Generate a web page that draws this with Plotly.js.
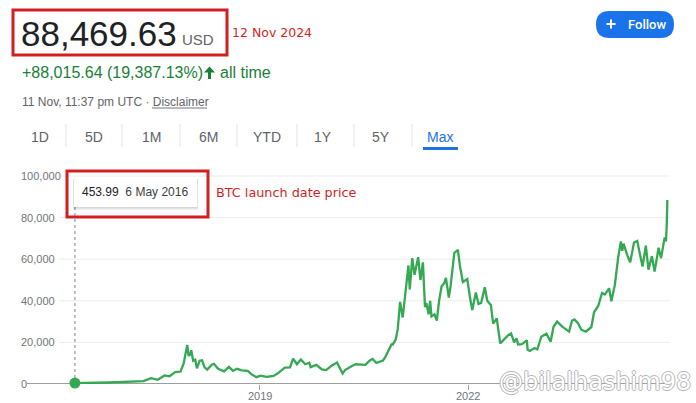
<!DOCTYPE html>
<html>
<head>
<meta charset="utf-8">
<script src="https://cdn.plot.ly/plotly-3.0.1.min.js"></script>
<style>
html,body{margin:0;padding:0;background:#fff;}
#chart{width:696px;height:403px;}
</style>
</head>
<body>
<div id="chart"></div>
<script>
// ---- data ----
const dates = [
"2016-05-06","2016-07-01","2016-09-01","2016-11-01","2017-01-01","2017-03-01","2017-05-01","2017-06-10",
"2017-07-15","2017-08-20","2017-09-15","2017-10-15","2017-11-12","2017-11-28","2017-12-08","2017-12-17",
"2017-12-24","2017-12-31","2018-01-07","2018-01-17","2018-01-28","2018-02-06","2018-02-20","2018-03-05",
"2018-03-18","2018-04-01","2018-04-25","2018-05-06","2018-05-28","2018-06-29","2018-07-24","2018-08-14",
"2018-09-04","2018-09-30","2018-10-31","2018-11-20","2018-12-15","2019-01-06","2019-02-07","2019-03-15",
"2019-04-05","2019-05-14","2019-06-10","2019-06-26","2019-07-16","2019-08-06","2019-08-29","2019-09-19",
"2019-09-26","2019-10-26","2019-11-24","2019-12-17","2020-01-14","2020-02-12","2020-03-12","2020-03-25",
"2020-04-30","2020-05-20","2020-06-20","2020-07-10","2020-08-02","2020-08-17","2020-09-05","2020-09-25",
"2020-10-10","2020-10-22","2020-11-06","2020-11-24","2020-12-01","2020-12-16","2020-12-27","2021-01-08",
"2021-01-22","2021-02-09","2021-02-21","2021-02-28","2021-03-13","2021-03-25","2021-04-13","2021-04-25",
"2021-05-08","2021-05-19","2021-05-26","2021-06-07","2021-06-15","2021-06-22","2021-07-08","2021-07-20",
"2021-08-01","2021-08-14","2021-08-28","2021-09-06","2021-09-21","2021-10-01","2021-10-20","2021-11-08",
"2021-11-18","2021-12-04","2021-12-27","2022-01-10","2022-01-22","2022-02-10","2022-02-24","2022-03-10",
"2022-03-29","2022-04-11","2022-04-30","2022-05-12","2022-05-31","2022-06-18","2022-07-08","2022-07-30",
"2022-08-14","2022-08-30","2022-09-12","2022-09-20","2022-10-10","2022-11-05","2022-11-09","2022-11-21",
"2022-12-15","2022-12-30","2023-01-20","2023-02-16","2023-03-10","2023-03-25","2023-04-13","2023-05-10",
"2023-06-15","2023-06-30","2023-07-13","2023-08-01","2023-08-18","2023-09-11","2023-10-10","2023-10-24",
"2023-11-15","2023-12-05","2023-12-20","2024-01-11","2024-01-23","2024-02-10","2024-02-28","2024-03-13",
"2024-03-20","2024-03-27","2024-04-17","2024-05-01","2024-05-21","2024-06-07","2024-06-24","2024-07-05",
"2024-07-22","2024-08-05","2024-08-23","2024-09-06","2024-09-27","2024-10-10","2024-10-29","2024-11-05",
"2024-11-09","2024-11-12"];
const prices = [
454,670,600,730,1000,1200,1400,2800,
2000,4100,3700,5700,6000,9800,15000,18800,
13500,14000,16200,11200,11700,7500,11200,11400,
8000,6900,9300,9700,7300,6100,8200,6300,
7300,6600,6300,4600,3300,4000,3450,3900,
5000,7900,8000,12200,9500,11800,9500,10200,
8100,9200,7000,6700,8800,10300,5000,6700,
8700,9500,9300,9200,11300,12000,10100,10700,
11300,12900,15500,19000,19000,21300,26500,39500,
32000,46000,57000,45500,60500,52500,61000,50000,
58500,37000,39000,33500,40000,32500,33500,30500,
40000,47000,48500,51000,41500,47500,63000,64500,
57000,49000,50500,41800,35500,44000,38500,39000,
46500,40000,38000,29000,31500,19500,21500,23500,
24300,20000,22000,19000,19200,21000,16500,15900,
17300,16600,22700,24200,20300,27500,30000,27600,
25200,30400,31000,29200,26100,25200,27400,34500,
37500,43800,43000,46000,39800,47500,61000,68500,
64000,67500,61500,58500,68000,68800,61000,56500,
66500,55000,61500,54000,65500,60500,70500,68500,
76500,88469.63];
const yTickVals = [0,20000,40000,60000,80000,100000];
const yTickText = ["0","20,000","40,000","60,000","80,000","100,000"];
const xTickVals = ["2019-01-01","2022-01-01"];
const xTickText = ["2019","2022"];
const tabs = ["1D","5D","1M","6M","YTD","1Y","5Y","Max"];
const launchPrice = "453.99";
const launchDate = "6 May 2016";

// ---- pixel helpers (layout only) ----
const L=18, R=670, T=170, B=384;
const PX = p => (p - L) / (R - L);
const PY = p => (B - p) / (B - T);
const SANS = "Liberation Sans, Arial, sans-serif";
const GREEN = "#34a853";
const RED = "#d21f1f";
const DGREEN = "#188038";

const shapes = [];
const ann = [];

// gridlines (start after labels)
const gridStart = [28, 59, 59, 59, 59, 61];
yTickVals.forEach((v,i) => {
  if (i === 0) return;
  shapes.push({type:"line", layer:"below", xref:"paper", yref:"y", x0:PX(gridStart[i]), x1:1, y0:v, y1:v,
    line:{color:"#ececec", width:1}});
});
// baseline
shapes.push({type:"line", layer:"below", xref:"paper", yref:"y", x0:PX(27), x1:1, y0:0, y1:0,
  line:{color:"#9e9e9e", width:2}});
// dotted hover line
shapes.push({type:"line", layer:"below", xref:"x", yref:"paper", x0:dates[0], x1:dates[0], y0:0, y1:PY(207),
  line:{color:"#80868b", width:1, dash:"dot"}});

function rect(x0,y0,x1,y1,fill,lineColor,lw,layer){
  shapes.push({type:"rect", layer:layer||"above", xref:"paper", yref:"paper",
    x0:PX(x0), x1:PX(x1), y0:PY(y1), y1:PY(y0), fillcolor:fill,
    line:{color:lineColor||"rgba(0,0,0,0)", width:lw||0}});
}
function poly(pts, fill){
  const p = pts.map((q,i)=>(i?"L":"M")+PX(q[0])+","+PY(q[1])).join(" ")+" Z";
  shapes.push({type:"path", layer:"above", xref:"paper", yref:"paper", path:p, fillcolor:fill,
    line:{color:fill, width:0}});
}
// tooltip box with soft shadow
rect(73,179,198,210,"rgba(0,0,0,0.06)");
rect(73.5,178.5,197.5,208.5,"rgba(0,0,0,0.10)");
rect(74,178,197,207,"#ffffff");
// red highlight boxes
rect(67,171,208,217,"rgba(0,0,0,0)",RED,3);
rect(13,10,227,55,"rgba(0,0,0,0)",RED,3);

// Follow pill
(function(){
  const x0=596,x1=674,y0=11,y1=38,r=13.5,ym=(y0+y1)/2;
  const P=(x,y)=>PX(x)+","+PY(y);
  const path = "M"+P(x0+r,y0)+" L"+P(x1-r,y0)+" Q"+P(x1,y0)+" "+P(x1,ym)+" Q"+P(x1,y1)+" "+P(x1-r,y1)+
    " L"+P(x0+r,y1)+" Q"+P(x0,y1)+" "+P(x0,ym)+" Q"+P(x0,y0)+" "+P(x0+r,y0)+" Z";
  shapes.push({type:"path", layer:"above", xref:"paper", yref:"paper", path:path, fillcolor:"#1a73e8",
    line:{color:"#1a73e8", width:0}});
})();
// plus sign in Follow button
rect(606.5,23,615.5,25,"#ffffff");
rect(610,19.5,612,28.5,"#ffffff");

// up arrow after the change figure
poly([[209.5,66.5],[204,72.5],[208,72.5],[208,79],[211,79],[211,72.5],[215,72.5]], DGREEN);

// tab separators and underline
[66,122,180,237,297,354,412].forEach(x => {
  shapes.push({type:"line", xref:"paper", yref:"paper", x0:PX(x), x1:PX(x), y0:PY(147), y1:PY(124),
    line:{color:"#e3e3e3", width:1}});
});
rect(423,147,458,150,"#1a73e8");
// underline for Disclaimer
shapes.push({type:"line", xref:"paper", yref:"paper", x0:PX(152), x1:PX(207), y0:PY(108), y1:PY(108),
  line:{color:"#70757a", width:1}});

function text(t,x,y,size,color,family,anchor,extra){
  ann.push(Object.assign({text:t, x:PX(x), y:PY(y), xref:"paper", yref:"paper", showarrow:false,
    xanchor:anchor||"left", yanchor:"middle", font:{size:size, color:color, family:family||SANS}}, extra||{}));
  return ann[ann.length-1];
}
text("88,469.63", 19, 33, 35, "#202124");
text("USD", 180, 39, 15, "#5f6368");
text("12 Nov 2024", 230, 32, 12.5, RED, "DejaVu Sans");
text("+88,015.64 (19,387.13%)", 20, 73, 16, DGREEN);
text("all time", 218, 73, 16, DGREEN);
text("11 Nov, 11:37 pm UTC · Disclaimer", 20, 102, 12, "#5f6368");
text("Follow", 626, 24, 13, "#ffffff", "Roboto, "+SANS, "left").font.weight = 500;
const tabX = [40,94,151,208,267,323,381,440];
tabs.forEach((t,i) => text(t, tabX[i], 137, 14, i===tabs.length-1 ? "#1a73e8" : "#5f6368", SANS, "center"));
text("<span style='color:#202124'>"+launchPrice+"</span>  "+launchDate, 80, 192, 12, "#3c4043");
text("BTC launch date price", 214, 192, 12.8, RED, "DejaVu Sans");
text("@bilalhashim98", 595, 382, 24, "#ffffff", "DejaVu Sans", "center").font.shadow =
  "1px 0 0 #b5b5b5, -1px 0 0 #b5b5b5, 0 1px 0 #b5b5b5, 0 -1px 0 #b5b5b5";

// y tick labels (left-aligned, inside the chart like the reference)
yTickVals.forEach((v,i) => {
  ann.push({text:yTickText[i], x:PX(19), y:v, xref:"paper", yref:"y", showarrow:false,
    xanchor:"left", yanchor:"middle", font:{size:11, color:"#70757a", family:SANS}});
});
// x tick labels
xTickVals.forEach((v,i) => {
  ann.push({text:xTickText[i], x:v, y:PY(396), xref:"x", yref:"paper", showarrow:false,
    xanchor:"center", yanchor:"middle", font:{size:11, color:"#70757a", family:SANS}});
});

const traces = [
  {x:dates, y:prices, type:"scatter", mode:"lines", line:{color:GREEN, width:2.3}, hoverinfo:"skip"},
  {x:[dates[0]], y:[prices[0]], type:"scatter", mode:"markers", marker:{color:GREEN, size:11}, hoverinfo:"skip", cliponaxis:false}
];

const layout = {
  width:696, height:403, showlegend:false,
  paper_bgcolor:"#ffffff", plot_bgcolor:"#ffffff",
  margin:{l:L, r:696-R, t:T, b:403-B, pad:0},
  font:{family:SANS},
  xaxis:{type:"date", range:["2015-07-12","2024-11-26"], tickvals:xTickVals, showticklabels:false,
    ticks:"outside", ticklen:5, tickcolor:"#9aa0a6", tickwidth:1, showgrid:false, zeroline:false, showline:false,
    fixedrange:true},
  yaxis:{range:[0,102885], showticklabels:false, showgrid:false, zeroline:false, showline:false, ticks:"",
    fixedrange:true},
  shapes:shapes, annotations:ann
};
Plotly.newPlot("chart", traces, layout, {displayModeBar:false, staticPlot:true});
</script>
</body>
</html>
